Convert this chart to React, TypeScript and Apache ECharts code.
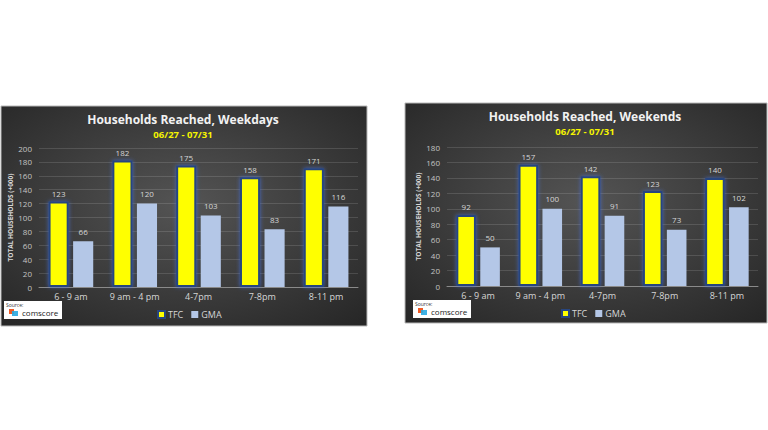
import React, { useEffect, useRef } from "react";
import * as echarts from "echarts";

const categories = ["6 - 9 am", "9 am - 4 pm", "4-7pm", "7-8pm", "8-11 pm"];
const weekdayTFC = [123, 182, 175, 158, 171];
const weekdayGMA = [66, 120, 103, 83, 116];
const weekendTFC = [92, 157, 142, 123, 140];
const weekendGMA = [50, 100, 91, 73, 102];
const seriesNames = ["TFC", "GMA"];
const titles = ["Households Reached, Weekdays", "Households Reached, Weekends"];
const dateRange = "06/27 - 07/31";
const yAxisName = "TOTAL HOUSEHOLDS (+000)";

const FONT = "'Open Sans', 'Liberation Sans', sans-serif";
const LABEL = "#d6d6d6";

// panel boxes: [x, y, w, h]
const panels = [
  { x: 1, y: 106, w: 366, h: 220, cx: 183, src: [4, 301] },
  { x: 405, y: 103, w: 362, h: 220, cx: 585, src: [413, 300] },
];

const panelGraphics = (p: (typeof panels)[number], i: number) => [
  {
    type: "rect",
    z: -10,
    shape: { x: p.x, y: p.y, width: p.w, height: p.h },
    style: {
      fill: new echarts.graphic.RadialGradient(0.5, 0.45, 0.75, [
        { offset: 0, color: "#545454" },
        { offset: 1, color: "#252525" },
      ]),
      stroke: "#b8b8b8",
      lineWidth: 1,
    },
  },
  {
    type: "text",
    x: p.cx,
    y: p.y + 13,
    style: {
      text: titles[i],
      fill: "#f2f2f2",
      font: `bold 12px ${FONT}`,
      textAlign: "center",
      textVerticalAlign: "middle",
    },
  },
  {
    type: "text",
    x: p.cx,
    y: p.y + 28,
    style: {
      text: dateRange,
      fill: "#f5f500",
      font: `bold 9.5px ${FONT}`,
      textAlign: "center",
      textVerticalAlign: "middle",
    },
  },
  {
    type: "rect",
    z: 5,
    shape: { x: p.src[0], y: p.src[1], width: 58, height: 18 },
    style: { fill: "#ffffff" },
  },
  {
    type: "text",
    z: 6,
    x: p.src[0] + 2,
    y: p.src[1] + 4,
    style: { text: "Source:", fill: "#333", font: `5px ${FONT}`, textVerticalAlign: "middle" },
  },
  {
    type: "rect",
    z: 6,
    shape: { x: p.src[0] + 5, y: p.src[1] + 8, width: 5, height: 5 },
    style: { fill: "#f15a24" },
  },
  {
    type: "rect",
    z: 6,
    shape: { x: p.src[0] + 8, y: p.src[1] + 10, width: 6, height: 5 },
    style: { fill: "#29a9e1", opacity: 0.9 },
  },
  {
    type: "text",
    z: 6,
    x: p.src[0] + 18,
    y: p.src[1] + 11,
    style: { text: "comscore", fill: "#222", font: `8px ${FONT}`, textVerticalAlign: "middle" },
  },
];

const App: React.FC = () => {
  const chartRef = useRef<HTMLDivElement>(null);

  useEffect(() => {
    const chart = echarts.init(chartRef.current!, null, { renderer: "svg" });

    const xAxis = (gridIndex: number) => ({
      type: "category",
      gridIndex,
      data: categories,
      axisTick: { show: false },
      axisLine: { lineStyle: { color: "#8a8a8a" } },
      axisLabel: { color: LABEL, fontSize: 9, fontFamily: FONT, margin: 5, interval: 0 },
    });

    const yAxis = (gridIndex: number, max: number, nameGap: number) => ({
      type: "value",
      gridIndex,
      min: 0,
      max,
      interval: 20,
      name: yAxisName,
      nameLocation: "middle",
      nameGap,
      nameTextStyle: { color: LABEL, fontSize: 6.5, fontWeight: "bold", fontFamily: FONT },
      axisLabel: { color: "#c4c4c4", fontSize: 8, fontFamily: FONT, margin: 7 },
      splitLine: { lineStyle: { color: "rgba(255,255,255,0.13)" } },
    });

    const tfc = (idx: number, data: number[]) => ({
      name: seriesNames[0],
      type: "bar",
      xAxisIndex: idx,
      yAxisIndex: idx,
      data,
      barGap: "22%",
      barCategoryGap: "30%",
      itemStyle: {
        color: "#ffff00",
        borderColor: "#27457f",
        borderWidth: 2,
        shadowColor: "rgba(70,110,210,0.8)",
        shadowBlur: 4,
      },
      label: { show: true, position: "top", color: LABEL, fontSize: 8, fontFamily: FONT, distance: 4 },
    });

    const gma = (idx: number, data: number[]) => ({
      name: seriesNames[1],
      type: "bar",
      xAxisIndex: idx,
      yAxisIndex: idx,
      data,
      barGap: "22%",
      barCategoryGap: "30%",
      itemStyle: { color: "#b4c7e7" },
      label: { show: true, position: "top", color: LABEL, fontSize: 8, fontFamily: FONT, distance: 6 },
    });

    const legend = (left: number, top: number) => ({
      left,
      top,
      padding: 0,
      itemWidth: 7,
      itemHeight: 7,
      itemGap: 8,
      icon: "rect",
      data: seriesNames,
      textStyle: { color: LABEL, fontSize: 9, fontFamily: FONT, padding: [0, 0, 0, -2] },
    });

    chart.setOption({
      animation: false,
      backgroundColor: "#ffffff",
      graphic: [...panelGraphics(panels[0], 0), ...panelGraphics(panels[1], 1)],
      grid: [
        { left: 39, right: 410, top: 148, bottom: 143 },
        { left: 447, right: 10, top: 147, bottom: 144 },
      ],
      xAxis: [xAxis(0), xAxis(1)],
      yAxis: [yAxis(0, 200, 22), yAxis(1, 180, 25)],
      legend: [legend(157, 310), legend(561, 309)],
      series: [tfc(0, weekdayTFC), gma(0, weekdayGMA), tfc(1, weekendTFC), gma(1, weekendGMA)],
    });

    return () => {
      chart.dispose();
    };
  }, []);

  return (
    <div
      ref={chartRef}
      style={{ position: "absolute", left: 0, top: 0, width: "768px", height: "430px" }}
    ></div>
  );
};

export default App;
